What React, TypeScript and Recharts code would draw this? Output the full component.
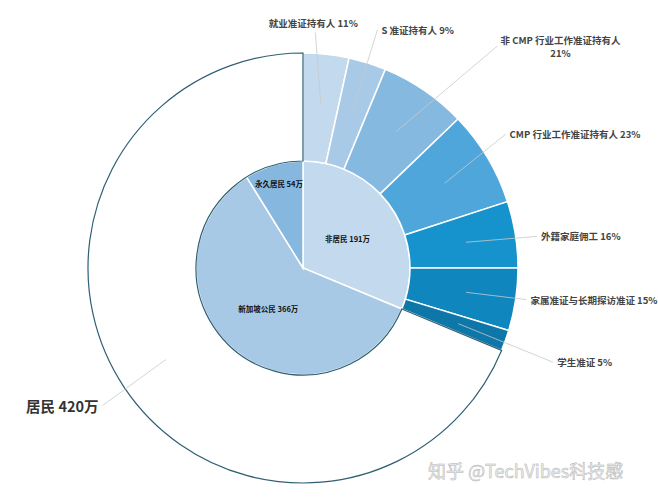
import { PieChart, Pie, Cell } from 'recharts';

// inner ring: population groups (万)
const innerNames = ['非居民', '新加坡公民', '永久居民'];
const innerValues = [191, 366, 54];
const innerColors = ['#c3d9ed', '#a8c9e6', '#86b8df'];

// outer ring: non-resident breakdown (% of 非居民), then 居民 total
const passNames = [
  '就业准证持有人',
  'S 准证持有人',
  '非 CMP 行业工作准证持有人',
  'CMP 行业工作准证持有人',
  '外籍家庭佣工',
  '家属准证与长期探访准证',
  '学生准证',
];
const passShares = [11, 9, 21, 23, 16, 15, 5];
const passColors = ['#c3d9ed', '#a8cae7', '#86b9e0', '#4fa6db', '#1693cd', '#0f86be', '#0c77a8'];
const nonResidentTotal = 191;
const residentTotal = 420;

const innerData = innerNames.map((name, i) => ({ name, value: innerValues[i] }));
const outerData = [
  ...passNames.map((name, i) => ({
    name,
    value: (passShares[i] / 100) * nonResidentTotal,
    label: `${passShares[i]}%`,
  })),
  { name: '居民', value: residentTotal, label: `${residentTotal}万` },
];

// label nudges for the leader-line ends (like a hand-tidied chart)
const labelNudge: Record<string, [number, number]> = {
  '就业准证持有人': [-13, -2],
  'S 准证持有人': [4, -14],
  '非 CMP 行业工作准证持有人': [62, -28],
  'CMP 行业工作准证持有人': [1, -13],
  '外籍家庭佣工': [2, 5],
  '家属准证与长期探访准证': [-9, -3],
  '学生准证': [29, 15],
  '居民': [-5, 7],
};

const RADIAN = Math.PI / 180;
const FONT = '"Noto Sans CJK SC", "Noto Sans", sans-serif';

function renderInnerLabel(props: any) {
  const { cx, cy, midAngle, outerRadius, percent, name, value } = props;
  const r = outerRadius * (percent < 0.15 ? 0.82 : 0.5);
  const x = cx + r * Math.cos(-midAngle * RADIAN);
  const y = cy + r * Math.sin(-midAngle * RADIAN);
  return (
    <text x={x} y={y} textAnchor="middle" dominantBaseline="central" fontSize={7.5} fontWeight={700} fill="#111" fontFamily={FONT}>
      {`${name} ${value}万`}
    </text>
  );
}

function renderOuterLabel(props: any) {
  const { cx, cy, midAngle, payload } = props;
  const name = payload.name;
  const cos = Math.cos(-midAngle * RADIAN);
  const sin = Math.sin(-midAngle * RADIAN);
  const sx = cx + 165 * cos;
  const sy = cy + 165 * sin;
  const [nx, ny] = labelNudge[name] || [0, 0];
  const ex = cx + 235 * cos + nx;
  const ey = cy + 235 * sin + ny;
  const line = <line x1={sx} y1={sy} x2={ex} y2={ey} stroke="#c9c9c9" strokeWidth={0.8} />;
  const common = { fontFamily: FONT, fontWeight: 700, fill: '#444' };

  if (name === '居民') {
    return (
      <g>
        {line}
        <text x={ex - 4} y={ey} textAnchor="end" dominantBaseline="central" fontSize={14.5} {...common} fill="#333">
          {`${name} ${payload.label}`}
        </text>
      </g>
    );
  }
  if (name === '就业准证持有人') {
    return (
      <g>
        {line}
        <text x={ex - 2} y={ey - 9} textAnchor="middle" dominantBaseline="central" fontSize={9.5} {...common}>
          {`${name} ${payload.label}`}
        </text>
      </g>
    );
  }
  if (name === '非 CMP 行业工作准证持有人') {
    return (
      <g>
        {line}
        <text x={ex + 63} y={ey - 6} textAnchor="middle" dominantBaseline="central" fontSize={9.5} {...common}>
          {name}
        </text>
        <text x={ex + 63} y={ey + 7} textAnchor="middle" dominantBaseline="central" fontSize={9.5} {...common}>
          {payload.label}
        </text>
      </g>
    );
  }
  return (
    <g>
      {line}
      <text x={ex + 4} y={ey} textAnchor="start" dominantBaseline="central" fontSize={9.5} {...common}>
        {`${name} ${payload.label}`}
      </text>
    </g>
  );
}

export default function App() {
  return (
    <div style={{ position: 'fixed', left: 0, top: 0, width: 658, height: 500, background: '#fff' }}>
      <PieChart width={658} height={500} margin={{ top: 0, right: 0, bottom: 0, left: 0 }}>
        <Pie
          data={innerData}
          dataKey="value"
          nameKey="name"
          cx={303}
          cy={268}
          outerRadius={107}
          startAngle={90}
          endAngle={-270}
          stroke="#ffffff"
          strokeWidth={1.5}
          label={renderInnerLabel}
          labelLine={false}
          isAnimationActive={false}
        >
          {innerData.map((d, i) => (
            <Cell key={d.name} fill={innerColors[i]} />
          ))}
        </Pie>
        <Pie
          data={outerData}
          dataKey="value"
          nameKey="name"
          cx={303}
          cy={268}
          innerRadius={107}
          outerRadius={215}
          startAngle={90}
          endAngle={-270}
          label={renderOuterLabel}
          labelLine={false}
          isAnimationActive={false}
        >
          {outerData.map((d, i) =>
            d.name === '居民' ? (
              <Cell key={d.name} fill="#ffffff" stroke="#2f5f73" strokeWidth={1.2} />
            ) : (
              <Cell key={d.name} fill={passColors[i]} stroke="#ffffff" strokeWidth={1.5} />
            )
          )}
        </Pie>
        <text x={428} y={470} dominantBaseline="central" fontSize={18} fontFamily={FONT} fill="#eeeeee" stroke="#b4b4b4" strokeWidth={0.5}>
          知乎 @TechVibes科技感
        </text>
      </PieChart>
    </div>
  );
}
